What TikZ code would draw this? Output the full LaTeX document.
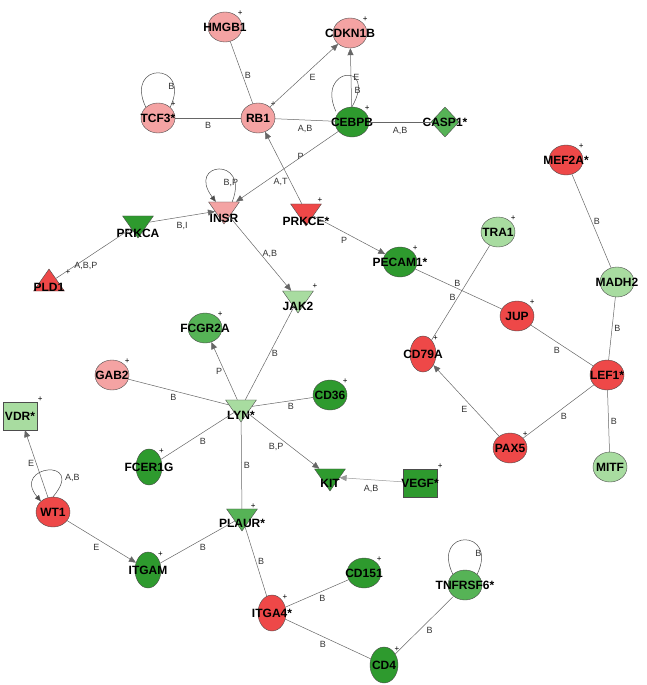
\documentclass[tikz,border=0pt]{standalone}
\usepackage{fontspec}
\setmainfont{Liberation Sans}
\usetikzlibrary{shapes.geometric,arrows.meta}
\definecolor{pk}{HTML}{F4A3A3}
\definecolor{rd}{HTML}{EE4848}
\definecolor{dg}{HTML}{2E9A2E}
\definecolor{gn}{HTML}{56B356}
\definecolor{lg}{HTML}{A8DCA0}
\begin{document}
\begin{tikzpicture}[x=1pt,y=-1pt,
  base/.style={draw=black!70,line width=0.4pt,inner sep=0pt},
  ell/.style={base,ellipse,minimum width=34,minimum height=30},
  tri/.style={base,isosceles triangle,shape border rotate=270,isosceles triangle apex angle=70,minimum height=22,minimum width=30},
  triu/.style={base,isosceles triangle,shape border rotate=90,isosceles triangle apex angle=70,minimum height=22,minimum width=30},
  sqr/.style={base,rectangle,minimum width=34,minimum height=28},
  dia/.style={base,diamond,minimum width=28,minimum height=30},
  nm/.style={font=\bfseries\fontsize{12}{13}\selectfont},
  pl/.style={font=\fontsize{8}{9}\selectfont},
  lab/.style={font=\fontsize{9}{10}\selectfont,text=black!80,inner sep=2pt},
  ed/.style={draw=black!60,line width=0.5pt},
  ar/.style={ed,-{Triangle[length=7pt,width=6pt]}},
  lp/.style={ed,black!70},
  lpa/.style={ed,black!70,-{Triangle[length=6pt,width=5pt]}}]
\useasboundingbox (0,0) rectangle (646,685);
% nodes
\newcommand\gn[5]{\node[#1,fill=#2] (#3) at (#4) {}; \node[nm] at (#3.center) {#5};}
\gn{ell}{pk}{HMGB1}{225,27}{HMGB1}
\gn{ell}{pk}{CDKN1B}{350,33}{CDKN1B}
\gn{ell}{pk}{TCF3}{158,118}{TCF3*}
\gn{ell}{pk}{RB1}{258,118}{RB1}
\gn{ell}{dg}{CEBPB}{352,122}{CEBPB}
\gn{dia}{gn}{CASP1}{445,122}{CASP1*}
\gn{tri}{pk}{INSR}{224,210}{}
\node[nm] at (224,218) {INSR};
\gn{tri}{dg}{PRKCA}{138,224}{}
\node[nm] at (138,233) {PRKCA};
\gn{triu}{rd}{PLD1}{49,283}{}
\node[nm] at (49,287) {PLD1};
\gn{tri}{rd}{PRKCE}{306,212}{}
\node[nm] at (306,221) {PRKCE*};
\gn{ell}{dg}{PECAM1}{400,262}{PECAM1*}
\gn{ell}{lg}{TRA1}{498,232}{TRA1}
\gn{ell}{rd}{MEF2A}{566,160}{MEF2A*}
\gn{ell}{lg}{MADH2}{617,282}{MADH2}
\gn{ell}{rd}{JUP}{517,316}{JUP}
\node[fill=rd,ellipse,draw=black!70,minimum width=26,minimum height=36,inner sep=0pt] (CD79A) at (423,354) {}; \node[nm] at (423,354) {CD79A};
\gn{ell}{rd}{LEF1}{607,375}{LEF1*}
\gn{ell}{rd}{PAX5}{510,448}{PAX5}
\gn{ell}{lg}{MITF}{610,467}{MITF}
\gn{tri}{lg}{JAK2}{298,299}{}
\node[nm] at (298,306) {JAK2};
\gn{ell}{gn}{FCGR2A}{205,328}{FCGR2A}
\gn{ell}{pk}{GAB2}{112,375}{GAB2}
\gn{tri}{lg}{LYN}{241,408}{}
\node[nm] at (241,415) {LYN*};
\gn{ell}{dg}{CD36}{330,395}{CD36}
\node[fill=dg,ellipse,draw=black!70,minimum width=26,minimum height=36,inner sep=0pt] (FCER1G) at (149,467) {}; \node[nm] at (149,467) {FCER1G};
\gn{tri}{dg}{KIT}{330,477}{}
\node[nm] at (330,483) {KIT};
\gn{sqr}{dg}{VEGF}{420,483}{VEGF*}
\gn{sqr}{lg}{VDR}{20,416}{VDR*}
\gn{ell}{rd}{WT1}{53,512}{WT1}
\gn{tri}{gn}{PLAUR}{242,517}{}
\node[nm] at (242,523) {PLAUR*};
\node[fill=dg,ellipse,draw=black!70,minimum width=26,minimum height=36,inner sep=0pt] (ITGAM) at (148,570) {}; \node[nm] at (148,570) {ITGAM};
\gn{ell}{dg}{CD151}{364,573}{CD151}
\node[fill=rd,ellipse,draw=black!70,minimum width=28,minimum height=36,inner sep=0pt] (ITGA4) at (272,613) {}; \node[nm] at (272,613) {ITGA4*};
\node[fill=dg,ellipse,draw=black!70,minimum width=28,minimum height=36,inner sep=0pt] (CD4) at (384,665) {}; \node[nm] at (384,665) {CD4};
\gn{ell}{gn}{TNFRSF6}{465,585}{TNFRSF6*}
% plus signs
\foreach \p in {HMGB1,TCF3,RB1,CEBPB,CDKN1B,PECAM1,TRA1,MEF2A,JUP,CD79A,PAX5,FCGR2A,GAB2,CD36,FCER1G,VEGF,VDR,ITGAM,CD151,ITGA4,CD4,PLAUR}
  \node[pl] at ([shift={(3,-3)}]\p.north east) {+};
\node[pl] at (320,200) {+}; \node[pl] at (315,286) {+}; \node[pl] at (68,272) {+};
% edges
\draw[ed] (HMGB1) -- node[lab,right,pos=.55]{B} (RB1);
\draw[ar] (RB1) -- node[lab,below right,pos=.55]{E} (CDKN1B);
\draw[ar] (CEBPB) -- node[lab,right]{E} (CDKN1B);
\draw[ed] (TCF3) -- node[lab,below=2pt]{B} (RB1);
\draw[ed] (RB1) -- node[lab,below=3pt]{A,B} (CEBPB);
\draw[ed] (CEBPB) -- node[lab,below=3pt]{A,B} (CASP1);
\draw[ar] (CEBPB) -- node[lab,pos=.4,above right=-2pt]{P} (INSR);
\draw[ar] (PRKCE) -- node[lab,pos=.3,left=1pt]{A,T} (RB1);
\draw[ar] (PRKCA) -- node[lab,below=3pt]{B,I} (INSR);
\draw[ed] (PLD1) -- node[lab,below=2pt,pos=.4]{A,B,P} (PRKCA);
\draw[ar] (INSR) -- node[lab,right,pos=.5]{A,B} (JAK2);
\draw[ar] (PRKCE) -- node[lab,below left,pos=.5]{P} (PECAM1);
\draw[ed] (PECAM1) -- node[lab,above right=-2pt,pos=.45]{B} (JUP);
\draw[ed] (TRA1) -- node[lab,left,pos=.55]{B} (CD79A);
\draw[ed] (MEF2A) -- node[lab,right,pos=.5]{B} (MADH2);
\draw[ed] (MADH2) -- node[lab,right,pos=.5]{B} (LEF1);
\draw[ed] (JUP) -- node[lab,below left,pos=.5]{B} (LEF1);
\draw[ed] (LEF1) -- node[lab,below right,pos=.5]{B} (PAX5);
\draw[ar] (PAX5) -- node[lab,below left,pos=.45]{E} (CD79A);
\draw[ed] (LEF1) -- node[lab,right,pos=.5]{B} (MITF);
\draw[ed] (JAK2) -- node[lab,right,pos=.5]{B} (LYN);
\draw[ar] (LYN) -- node[lab,left,pos=.5]{P} (FCGR2A);
\draw[ed] (GAB2) -- node[lab,below left,pos=.5]{B} (LYN);
\draw[ed] (CD36) -- node[lab,below right,pos=.45]{B} (LYN);
\draw[ed] (FCER1G) -- node[lab,below right,pos=.5]{B} (LYN);
\draw[ar] (LYN) -- node[lab,left=5pt,pos=.6]{B,P} (KIT);
\draw[ar,draw=black!40] (VEGF) -- node[lab,below=3pt,pos=.5]{A,B} (KIT);
\draw[ed] (LYN) -- node[lab,right,pos=.5]{B} (PLAUR);
\draw[ar] (WT1) -- node[lab,left,pos=.5]{E} (VDR);
\draw[ar] (WT1) -- node[lab,below left,pos=.5]{E} (ITGAM);
\draw[ed] (ITGAM) -- node[lab,below right,pos=.5]{B} (PLAUR);
\draw[ed] (PLAUR) -- node[lab,right,pos=.5]{B} (ITGA4);
\draw[ed] (ITGA4) -- node[lab,below right,pos=.5]{B} (CD151);
\draw[ed] (ITGA4) -- node[lab,below left,pos=.5]{B} (CD4);
\draw[ed] (CD4) -- node[lab,below right,pos=.5]{B} (TNFRSF6);
% loops
\draw[lp] (TCF3.north west) .. controls +(-22,-46) and +(22,-46) .. node[lab,pos=.72,below=2pt]{B} (TCF3.north east);
\draw[lp] ([xshift=-4pt]CEBPB.north west) .. controls +(-20,-44) and +(26,-46) .. node[lab,pos=.75,below=3pt]{B} (CEBPB.north);
\draw[lpa] (INSR.north east) .. controls +(18,-46) and +(-30,-40) .. node[lab,pos=.3,below=3pt]{B,P} (INSR.north west);
\draw[lpa] (WT1.north) .. controls +(34,-40) and +(-30,-36) .. node[lab,pos=.2,right=1pt]{A,B} (WT1.north west);
\draw[lp] (TNFRSF6.north west) .. controls +(-22,-46) and +(22,-46) .. node[lab,pos=.72,below=2pt]{B} (TNFRSF6.north east);
\end{tikzpicture}
\end{document}
